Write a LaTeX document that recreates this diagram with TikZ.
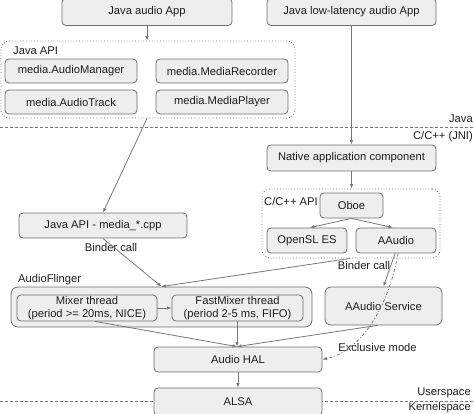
\documentclass[tikz,border=0pt]{standalone}
\usepackage{fontspec}
\setmainfont{Liberation Sans}
\usetikzlibrary{arrows.meta}
\definecolor{boxfill}{HTML}{EEEEEE}
\definecolor{boxline}{HTML}{6E6E6E}
\definecolor{linegray}{HTML}{777777}
\definecolor{txt}{HTML}{1E1E1E}
\tikzset{
  box/.style={draw=boxline, fill=boxfill, rounded corners=4pt, line width=0.8pt, inner sep=0pt, align=center, text=txt, font=\fontsize{11.2}{12.6}\selectfont},
  group/.style={draw=boxline, dotted, rounded corners=8pt, line width=0.8pt, inner sep=0pt},
  solidgroup/.style={draw=boxline, rounded corners=7pt, line width=0.8pt, inner sep=0pt},
  lbl/.style={inner sep=0pt, text=txt, font=\fontsize{11.2}{12.6}\selectfont},
  conn/.style={draw=linegray, line width=0.8pt, -{Latex[length=4.5pt,width=3.5pt]}},
  dashdotconn/.style={conn, dash pattern=on 3pt off 2pt on 1pt off 2pt},
  sep/.style={draw=linegray, line width=0.7pt, dash pattern=on 3pt off 2pt}
}
\begin{document}
\begin{tikzpicture}[x=1pt, y=-1pt]
\useasboundingbox (0,0) rectangle (474,414);

% separators
\coordinate (s1l) at (0,127.5); \coordinate (s1r) at (474,127.5);
\coordinate (s2l) at (0,401); \coordinate (s2r) at (474,401);
\draw[sep] (s1l) -- (s1r);
\draw[sep] (s2l) -- (s2r);
\node[lbl, anchor=east] (ljava) at (473,119) {Java};
\node[lbl, anchor=east] (ljni) at (473,137) {C/C++ (JNI)};
\node[lbl, anchor=east] (luser) at (471,393) {Userspace};
\node[lbl, anchor=east] (lkern) at (471,407.5) {Kernelspace};

% top apps
\node[box, minimum width=170pt, minimum height=27pt] (app1) at (147,12) {Java audio App};
\node[box, minimum width=169pt, minimum height=27pt] (app2) at (351.5,12) {Java low-latency audio App};

% Java API group
\node[group, minimum width=294pt, minimum height=77pt] (japi) at (148,79.5) {};
\node[lbl, anchor=west] (ljapi) at (13,51) {Java API};
\node[box, minimum width=132pt, minimum height=24pt] (am) at (71,71) {media.AudioManager};
\node[box, minimum width=132pt, minimum height=24pt] (mr) at (222,71) {media.MediaRecorder};
\node[box, minimum width=132pt, minimum height=24pt] (at) at (71,102) {media.AudioTrack};
\node[box, minimum width=132pt, minimum height=24pt] (mp) at (222,102) {media.MediaPlayer};

% native side
\node[box, minimum width=169pt, minimum height=26pt] (native) at (351.5,158) {Native application component};
\node[group, minimum width=178pt, minimum height=69pt] (capi) at (351,223.5) {};
\node[lbl, anchor=west] (lcapi) at (264,201.5) {C/C++ API};
\node[box, minimum width=63pt, minimum height=25pt] (oboe) at (351.5,205.5) {Oboe};
\node[box, minimum width=80pt, minimum height=25pt] (opensl) at (307,240.5) {OpenSL ES};
\node[box, minimum width=80pt, minimum height=25pt] (aaudio) at (396,240.5) {AAudio};

% media cpp
\node[box, minimum width=168pt, minimum height=25pt] (mcpp) at (103,225.5) {Java API - media\_*.cpp};
\node[lbl] (bc1) at (111,247) {Binder call};
\node[lbl] (bc2) at (364,265) {Binder call};

% AudioFlinger
\node[lbl, anchor=west] (laf) at (18,280) {AudioFlinger};
\node[solidgroup, fill=boxfill, minimum width=301pt, minimum height=40pt] (af) at (161.5,307) {};
\node[box, minimum width=140pt, minimum height=26pt] (mixer) at (87,308) {Mixer thread\\(period >= 20ms, NICE)};
\node[box, minimum width=131pt, minimum height=26pt] (fmixer) at (237.5,308) {FastMixer thread\\(period 2-5 ms, FIFO)};
\node[box, rounded corners=6pt, minimum width=117pt, minimum height=38pt] (aserv) at (383.5,306) {AAudio Service};

% HAL / ALSA
\node[box, minimum width=168pt, minimum height=25pt] (hal) at (238,359.5) {Audio HAL};
\node[box, minimum width=168pt, minimum height=28pt] (alsa) at (238,402) {ALSA};
\node[lbl] (lexcl) at (377.5,347) {Exclusive mode};

% connectors
\draw[conn] (app1.south) -- (japi.north -| app1.south);
\draw[conn] (japi.south -| app1.south) -- (mcpp.north);
\draw[conn] (app2.south) -- (native.north);
\draw[conn] (native.south) -- (capi.north -| native.south);
\draw[conn] (oboe.south) -- ([xshift=3pt]opensl.north);
\draw[conn] (oboe.south) -- ([xshift=-3pt]aaudio.north);
\draw[conn] (mcpp.south) -- (af.north);
\draw[conn] ([xshift=-1pt]capi.south) -- (af.north);
\draw[conn] ([xshift=-1pt]aaudio.south) -- (aserv.north);
\draw[dashdotconn] ([xshift=2pt]aaudio.south) .. controls (390,300) and (365,350) .. (hal.east);
\draw[conn] (mixer.east) -- (fmixer.west);
\draw[conn] ([xshift=8pt]mixer.south) -- ([xshift=-1pt]hal.north);
\draw[conn] ([xshift=-0.5pt]fmixer.south) -- ([xshift=-1pt]hal.north);
\draw[conn] ([xshift=-6pt]aserv.south) -- ([xshift=-1pt]hal.north);
\draw[conn] (hal.south) -- (alsa.north);
\end{tikzpicture}
\end{document}
